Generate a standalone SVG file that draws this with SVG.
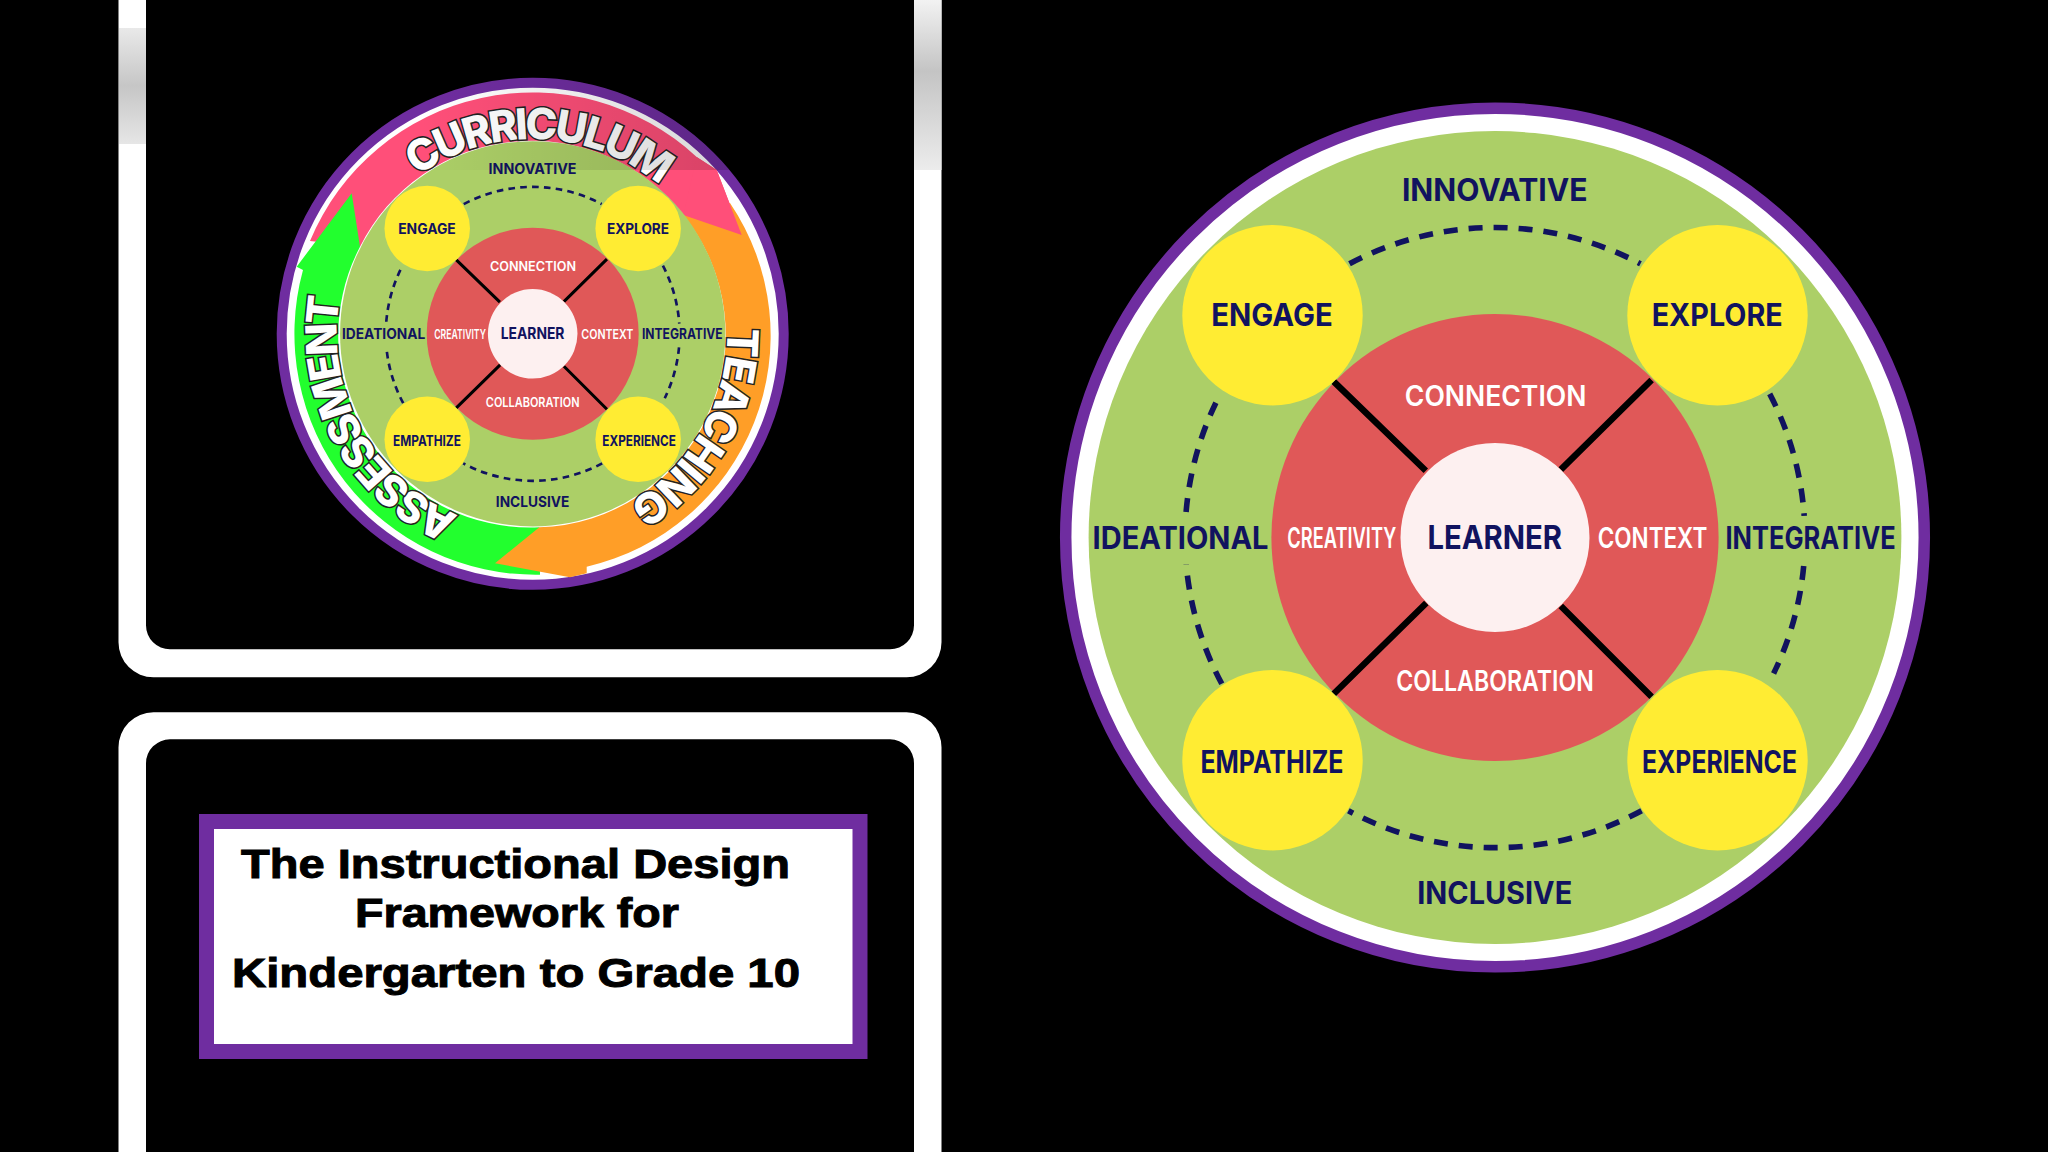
<svg xmlns="http://www.w3.org/2000/svg" width="2048" height="1152" viewBox="0 0 2048 1152">
<style>
.f{fill:#fff;fill-rule:evenodd}
.disc{fill:#fff;stroke:#6f2da0}
.ring{fill:#accf67}
.red{fill:#e05858}
.yel{fill:#ffec33}
.core{fill:#fdf0f0}
.cross{stroke:#000;stroke-width:6.4;fill:none}
.dash{stroke:#11135f;stroke-width:5.6;fill:none;stroke-dasharray:14 11}
text{font-family:Inter,"Liberation Sans",sans-serif;font-weight:700}
.n{fill:#11135f}
.nl{fill:#11135f;font-size:31px}
.nc{fill:#11135f;font-size:31px}
.w{fill:#fff;font-size:28px;font-weight:600}
.big{font-size:43px;font-weight:800;fill:#fff;stroke:#222;stroke-width:3;paint-order:stroke;text-anchor:middle}
.title{font-family:"Liberation Sans",Arial,sans-serif;font-size:41px;font-weight:700;fill:#000;stroke:#000;stroke-width:1}
</style>
<defs>
<linearGradient id="bandL" x1="0" y1="28" x2="0" y2="144" gradientUnits="userSpaceOnUse"><stop offset="0" stop-color="#e9e9e9"/><stop offset=".5" stop-color="#c6c6c6"/><stop offset="1" stop-color="#e6e6e6"/></linearGradient>
<linearGradient id="bandR" x1="0" y1="0" x2="0" y2="170" gradientUnits="userSpaceOnUse"><stop offset="0" stop-color="#f2f2f2"/><stop offset=".42" stop-color="#c4c4c4"/><stop offset="1" stop-color="#ececec"/></linearGradient>
<linearGradient id="dim" x1="420" y1="0" x2="740" y2="0" gradientUnits="userSpaceOnUse"><stop offset="0" stop-color="#000" stop-opacity="0"/><stop offset="1" stop-color="#000" stop-opacity=".16"/></linearGradient>
<clipPath id="smallDisc"><circle cx="532.7" cy="333.8" r="256"/></clipPath>
<path id="pCurr" d="M335.9 325.2A197 197 0 0 1 729.5 342.4"/>
<path id="pTeach" d="M623.7 159.1A197 197 0 0 1 441.7 508.5"/>
<path id="pAssess" d="M628.2 506.1A197 197 0 0 1 437.2 161.5"/>
</defs>
<rect width="2048" height="1152" fill="#000"/>
<g id="frame-top">
<path class="f" d="M118.5 -60H941.5V642.3a35 35 0 0 1 -35 35H153.5a35 35 0 0 1 -35 -35ZM146 -60V625.3a24 24 0 0 0 24 24H890a24 24 0 0 0 24 -24V-60Z"/>
<rect x="119" y="28" width="27" height="116" fill="url(#bandL)"/>
<rect x="914" y="0" width="27.5" height="170" fill="url(#bandR)"/>
</g>
<g id="frame-bottom">
<path class="f" d="M118.5 1200V747.3a35 35 0 0 1 35 -35H906.5a35 35 0 0 1 35 35V1200ZM146 1200H914V763.3a24 24 0 0 0 -24 -24H170a24 24 0 0 0 -24 24Z"/>
</g>
<g id="title-box">
<rect x="206.5" y="821.5" width="653.5" height="230" fill="#fff" stroke="#6f2da0" stroke-width="15"/>
<text class="title" x="241" y="878" textLength="549" lengthAdjust="spacingAndGlyphs">The Instructional Design</text>
<text class="title" x="355" y="927" textLength="324" lengthAdjust="spacingAndGlyphs">Framework for</text>
<text class="title" x="232" y="987" textLength="568" lengthAdjust="spacingAndGlyphs">Kindergarten to Grade 10</text>
</g>
<g id="small-framework">
<circle class="disc" cx="532.7" cy="333.8" r="251" stroke-width="10"/>
<path id="arrow-curriculum" d="M310 241A241 241 0 0 1 696.7 157L716.7 170L741.7 235L683.3 215A192 192 0 0 0 360 246.7Z" fill="#ff4f79"/>
<path id="arrow-assessment" d="M540 574.7A241 241 0 0 1 303 270L296.7 266.7L351.7 193.3L360 246.7A192 192 0 0 0 539.3 527.3Z" fill="#22ff2e"/>
<path id="arrow-teaching" d="M730 203A237 237 0 0 1 586.7 566.7L586.7 573.3L570 577.3L495 563.3L539.3 527.3A192 192 0 0 0 683.3 215Z" fill="#ff9e27"/>
<path d="M696.7 157L716.7 170L741.7 235L683.3 215Z" fill="#ff4f79"/>
<g id="small-inner" transform="translate(532.7 333.8) scale(.474) translate(-1495 -537.5)">
<circle class="ring" cx="1495" cy="537.5" r="406.4"/>
<g id="s-dashes">
<path class="dash" d="M1349.5 263.8A310 310 0 0 1 1640.5 263.8"/>
<path class="dash" d="M1769.7 393.9A310 310 0 0 1 1804.2 515.9"/>
<path class="dash" d="M1803.7 566.1A310 310 0 0 1 1773.6 673.4"/>
<path class="dash" d="M1641.6 810.8A310 310 0 0 1 1348.4 810.8"/>
<path class="dash" d="M1221.8 683.8A310 310 0 0 1 1186.2 564.5"/>
<path class="dash" d="M1186.1 512.1A310 310 0 0 1 1216.2 402.1"/>
</g>
<circle class="red" cx="1495" cy="537.5" r="223.6"/>
<g id="s-cross">
<path class="cross" d="M1333.8 381.6L1425.8 470.8M1651.6 380L1560.8 469.6M1426.3 603L1333.8 693.8M1560.8 605.9L1651.6 696.7"/>
</g>
<g id="s-learner"><circle class="core" cx="1495" cy="537.5" r="94.5"/><text class="n" style="font-size:33px" x="1427.5" y="549" textLength="134.5" lengthAdjust="spacingAndGlyphs">LEARNER</text></g>
<g id="s-engage"><circle class="yel" cx="1272.5" cy="315.2" r="90.2"/><text class="nc" x="1211.2" y="326" textLength="121.5" lengthAdjust="spacingAndGlyphs">ENGAGE</text></g>
<g id="s-explore"><circle class="yel" cx="1717.5" cy="315.2" r="90.2"/><text class="nc" x="1651.7" y="326" textLength="131" lengthAdjust="spacingAndGlyphs">EXPLORE</text></g>
<g id="s-empathize"><circle class="yel" cx="1272.5" cy="760.2" r="90.2"/><text class="nc" x="1200.4" y="773.3" textLength="143" lengthAdjust="spacingAndGlyphs">EMPATHIZE</text></g>
<g id="s-experience"><circle class="yel" cx="1717.5" cy="760.2" r="90.2"/><text class="nc" x="1642" y="773.3" textLength="155" lengthAdjust="spacingAndGlyphs">EXPERIENCE</text></g>
<text class="nl" x="1401.9" y="201.1" textLength="185.6" lengthAdjust="spacingAndGlyphs">INNOVATIVE</text>
<text class="nl" x="1417.2" y="903.8" textLength="155" lengthAdjust="spacingAndGlyphs">INCLUSIVE</text>
<text class="nl" x="1092.6" y="549" textLength="175.9" lengthAdjust="spacingAndGlyphs">IDEATIONAL</text>
<text class="nl" x="1725.4" y="549" textLength="170.3" lengthAdjust="spacingAndGlyphs">INTEGRATIVE</text>
<text class="w" x="1287.3" y="548" textLength="108.9" lengthAdjust="spacingAndGlyphs">CREATIVITY</text>
<text class="w" x="1597.7" y="548" textLength="109.6" lengthAdjust="spacingAndGlyphs">CONTEXT</text>
<text class="w" x="1404.8" y="405.5" textLength="181.6" lengthAdjust="spacingAndGlyphs">CONNECTION</text>
<text class="w" x="1396.2" y="691" textLength="197.6" lengthAdjust="spacingAndGlyphs">COLLABORATION</text>
</g>
<text class="big" style="letter-spacing:-3.4px" transform="rotate(-.8 532.7 333.8)"><textPath href="#pCurr" startOffset="50%">CURRICULUM</textPath></text>
<text class="big" style="letter-spacing:-2.4px" transform="rotate(1.5 532.7 333.8)"><textPath href="#pTeach" startOffset="50%">TEACHING</textPath></text>
<text class="big" style="letter-spacing:-3.6px"><textPath href="#pAssess" startOffset="50%">ASSESSMENT</textPath></text>
<rect x="270" y="0" width="530" height="170" fill="url(#dim)" clip-path="url(#smallDisc)"/>
</g>
<g id="large-framework">
<circle class="disc" cx="1495" cy="537.5" r="429.3" stroke-width="11.5"/>
<circle class="ring" cx="1495" cy="537.5" r="406.4"/>
<g id="dashes">
<path class="dash" d="M1349.5 263.8A310 310 0 0 1 1640.5 263.8"/>
<path class="dash" d="M1769.7 393.9A310 310 0 0 1 1804.2 515.9"/>
<path class="dash" d="M1803.7 566.1A310 310 0 0 1 1773.6 673.4"/>
<path class="dash" d="M1641.6 810.8A310 310 0 0 1 1348.4 810.8"/>
<path class="dash" d="M1221.8 683.8A310 310 0 0 1 1186.2 564.5"/>
<path class="dash" d="M1186.1 512.1A310 310 0 0 1 1216.2 402.1"/>
</g>
<circle class="red" cx="1495" cy="537.5" r="223.6"/>
<g id="cross">
<path class="cross" d="M1333.8 381.6L1425.8 470.8M1651.6 380L1560.8 469.6M1426.3 603L1333.8 693.8M1560.8 605.9L1651.6 696.7"/>
</g>
<g id="learner"><circle class="core" cx="1495" cy="537.5" r="94.5"/><text class="n" style="font-size:33px" x="1427.5" y="549" textLength="134.5" lengthAdjust="spacingAndGlyphs">LEARNER</text></g>
<g id="engage"><circle class="yel" cx="1272.5" cy="315.2" r="90.2"/><text class="nc" x="1211.2" y="326" textLength="121.5" lengthAdjust="spacingAndGlyphs">ENGAGE</text></g>
<g id="explore"><circle class="yel" cx="1717.5" cy="315.2" r="90.2"/><text class="nc" x="1651.7" y="326" textLength="131" lengthAdjust="spacingAndGlyphs">EXPLORE</text></g>
<g id="empathize"><circle class="yel" cx="1272.5" cy="760.2" r="90.2"/><text class="nc" x="1200.4" y="773.3" textLength="143" lengthAdjust="spacingAndGlyphs">EMPATHIZE</text></g>
<g id="experience"><circle class="yel" cx="1717.5" cy="760.2" r="90.2"/><text class="nc" x="1642" y="773.3" textLength="155" lengthAdjust="spacingAndGlyphs">EXPERIENCE</text></g>
<text class="nl" x="1401.9" y="201.1" textLength="185.6" lengthAdjust="spacingAndGlyphs">INNOVATIVE</text>
<text class="nl" x="1417.2" y="903.8" textLength="155" lengthAdjust="spacingAndGlyphs">INCLUSIVE</text>
<text class="nl" x="1092.6" y="549" textLength="175.9" lengthAdjust="spacingAndGlyphs">IDEATIONAL</text>
<text class="nl" x="1725.4" y="549" textLength="170.3" lengthAdjust="spacingAndGlyphs">INTEGRATIVE</text>
<text class="w" x="1287.3" y="548" textLength="108.9" lengthAdjust="spacingAndGlyphs">CREATIVITY</text>
<text class="w" x="1597.7" y="548" textLength="109.6" lengthAdjust="spacingAndGlyphs">CONTEXT</text>
<text class="w" x="1404.8" y="405.5" textLength="181.6" lengthAdjust="spacingAndGlyphs">CONNECTION</text>
<text class="w" x="1396.2" y="691" textLength="197.6" lengthAdjust="spacingAndGlyphs">COLLABORATION</text>
</g>
</svg>
